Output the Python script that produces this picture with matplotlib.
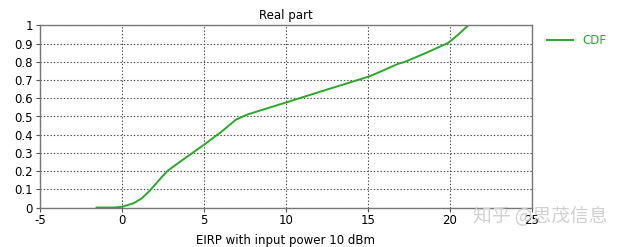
import numpy as np
import matplotlib.pyplot as plt

plt.rcParams['font.family'] = ['DejaVu Sans', 'Noto Sans CJK SC']

# CDF curve
eirp = [-1.55, -0.5, 0.0, 0.7, 1.2, 1.7, 2.1, 2.4, 2.8, 3.7, 4.3, 5.0, 6.1, 6.95, 7.65,
        8.5, 10.0, 12.5, 15.0, 15.6, 16.85, 17.25, 18.5, 19.9, 20.5, 21.1]
cdf = [0.0, 0.0, 0.004, 0.023, 0.05, 0.093, 0.134, 0.165, 0.203, 0.262, 0.3, 0.345, 0.419,
       0.483, 0.511, 0.535, 0.577, 0.648, 0.718, 0.74, 0.79, 0.80, 0.848, 0.905, 0.95, 1.0]

xticks = [-5, 0, 5, 10, 15, 20, 25]
yticks = [0, 0.1, 0.2, 0.3, 0.4, 0.5, 0.6, 0.7, 0.8, 0.9, 1]
ytick_labels = ["0", "0.1", "0.2", "0.3", "0.4", "0.5", "0.6", "0.7", "0.8", "0.9", "1"]

green = "#2aa82a"

fig = plt.figure(figsize=(6.24, 2.47), dpi=100)
ax = fig.add_axes([40 / 624, 1 - 207.5 / 247, 492 / 624, 182 / 247])

ax.plot(eirp, cdf, color=green, lw=1.4, label="CDF")

ax.set_xlim(-5, 25)
ax.set_ylim(0, 1)
ax.set_xticks(xticks)
ax.set_xticklabels([str(t) for t in xticks])
ax.set_yticks(yticks)
ax.set_yticklabels(ytick_labels)
ax.tick_params(labelsize=8.5, length=3, width=0.8, color="#555555", pad=2)
ax.grid(True, color="#444444", ls=(0, (1.2, 1.8)), lw=0.8)
for s in ax.spines.values():
    s.set_color("#777777")
    s.set_linewidth(1.0)

ax.set_title("Real part", fontsize=8.5, pad=5)
ax.set_xlabel("EIRP with input power 10 dBm", fontsize=8.5, labelpad=5)

leg = ax.legend(loc="upper left", bbox_to_anchor=(1.02, 0.98), frameon=False,
                fontsize=8.5, handlelength=2.2, handletextpad=0.8, borderaxespad=0)
for t in leg.get_texts():
    t.set_color(green)

# watermark, sits over the "25" label like in the reference
fig.text(0.758, 0.10, "知乎 @思茂信息", fontsize=13.5, color="#d0d0d0",
         family=['Noto Sans CJK SC', 'DejaVu Sans'])

fig.savefig("out.png", dpi=100)
